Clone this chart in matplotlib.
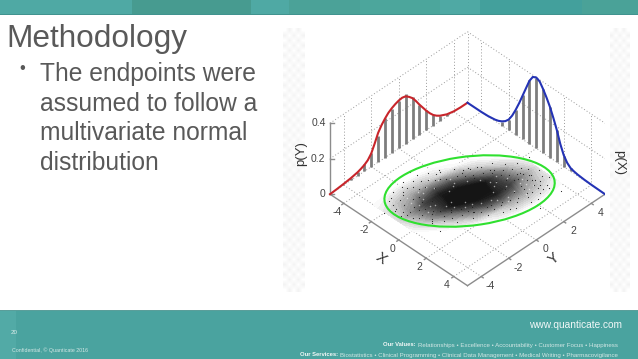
import numpy as np
import matplotlib
matplotlib.use('Agg')
import matplotlib.pyplot as plt
from matplotlib.colors import LinearSegmentedColormap
from matplotlib.patches import Rectangle, Ellipse
from mpl_toolkits.mplot3d import proj3d, art3d

plt.rcParams['font.family'] = ['Liberation Sans', 'DejaVu Sans']

# curves on the two back walls
curve_pos = [-5, -4.5, -4, -3.5, -3, -2.75, -2.5, -2.25, -2, -1.75, -1.5, -1.25, -1, -0.75, -0.5, -0.25, 0,
             0.25, 0.5, 0.75, 1, 1.25, 1.5, 1.75, 2, 2.25, 2.5, 2.75, 3, 3.5, 4, 4.5, 5]
p_y = [0, 0.003, 0.007, 0.012, 0.02, 0.027, 0.036, 0.05, 0.075, 0.118, 0.165, 0.196, 0.22, 0.24, 0.253, 0.263, 0.27,
       0.273, 0.268, 0.252, 0.232, 0.203, 0.17, 0.14, 0.11, 0.083, 0.06, 0.043, 0.03, 0.012, 0.003, 0, 0]
p_x = [0, 0, 0, 0.002, 0.008, 0.014, 0.024, 0.038, 0.06, 0.095, 0.14, 0.19, 0.245, 0.30, 0.355, 0.39, 0.40,
       0.39, 0.36, 0.325, 0.285, 0.235, 0.18, 0.115, 0.065, 0.035, 0.018, 0.012, 0.008, 0.004, 0.002, 0.001, 0]

# histogram bars
bar_y_pos = [-3.5, -3, -2.5, -2, -1.5, -1, -0.5, 0, 0.5, 1, 1.5, 2, 2.5, 3, 3.5]
bar_y = [0.012, 0.02, 0.04, 0.075, 0.15, 0.225, 0.25, 0.265, 0.28, 0.24, 0.165, 0.115, 0.06, 0.03, 0.012]
bar_x_pos = [-2.5, -2, -1.5, -1, -0.5, 0, 0.5, 1, 1.5, 2, 2.5]
bar_x = [0.022, 0.055, 0.14, 0.25, 0.36, 0.395, 0.36, 0.285, 0.18, 0.06, 0.016]

# green ellipse as read on the floor of the plot
ring_center = (-0.1, 0.25)
ring_width = 8.9
ring_height = 5.3
ring_angle = 57.7

# darkness of the point cloud by cell, rows are X, columns are Y
grid_ticks = [-4, -3, -2, -1, 0, 1, 2, 3, 4]
cloud = [
    [0.02, 0.02, 0.017, 0.01, 0, 0, 0, 0, 0],
    [0.033, 0.045, 0.042, 0.027, 0.012, 0.004, 0, 0, 0],
    [0.10, 0.19, 0.24, 0.22, 0.136, 0.059, 0.017, 0.004, 0],
    [0.114, 0.30, 0.54, 0.68, 0.59, 0.35, 0.145, 0.041, 0.008],
    [0.049, 0.18, 0.45, 0.79, 0.95, 0.79, 0.45, 0.18, 0.049],
    [0.008, 0.041, 0.145, 0.35, 0.59, 0.68, 0.54, 0.30, 0.114],
    [0, 0.004, 0.017, 0.059, 0.136, 0.22, 0.24, 0.19, 0.10],
    [0, 0, 0, 0.004, 0.012, 0.027, 0.042, 0.045, 0.033],
    [0, 0, 0, 0, 0, 0.01, 0.017, 0.02, 0.02],
]

# single dots visible around the edge of the cloud
dots_x = [-2.0, 3.4, 0.2, -3.3, 3.2, 1.0, -2.6, -2.3, -2.8, -2.1, -1.7, -1.4, -2.4, -2.7, -1.1, -0.9, -1.6, -2.0,
          -1.2, -0.5, -0.2, 0.3, 0.6, 1.1, 1.5, 1.9, 2.3, 2.5, 2.2, 1.8, 1.4, 0.9, 0.4, -0.1, 0.8, 1.2, 1.7, 2.0,
          2.4, 2.6, 1.9, 1.5, 0.7, 0.2, -0.4, -0.8, -1.3, -1.9, -2.4, -2.9, -2.6, -2.2, -1.5, -1.0, -0.6, 0.0, 0.5,
          1.0, 1.6, 2.1, -3.0, -2.5, -1.8, 2.7, 2.8, 1.3, 0.1, -0.3, -1.4, -2.2, -2.8, -1.1, 0.9, 1.7, 2.2, 2.6,
          -2.35, -2.15, -1.95, -1.75, -1.55, -1.25, -0.95, -0.75, -0.35, -0.05, 0.25, 0.55, 0.85, 1.15, 1.45, 1.65,
          1.85, 2.05, 2.35, -2.45, -2.05, -1.65, -1.35, -0.85, -0.55, -0.15, 0.15, 0.45, 0.75, 1.05, 1.35, 1.75,
          2.15, 2.45, -2.55, -2.25, -1.85, -1.45, -1.15, -0.65, -0.25, 0.35, 0.65, 0.95, 1.25, 1.55, 1.95, 2.25,
          -1.05, -0.45, 0.05, 0.35, 0.95, 1.45, -1.75, -1.25, -0.7, 0.15, 0.7, 1.25, 1.8, 2.35]
dots_y = [-4.1, 1.9, 4.3, -0.9, 3.6, -3.0, -3.0, -2.4, -2.0, -3.3, -2.9, -3.3, -1.0, -1.3, -3.1, -2.6, -1.9, -0.4,
          -2.1, -2.8, -2.4, -2.9, -2.3, -1.9, -1.1, -0.4, 0.3, 1.0, 1.4, 0.6, 0.0, -0.9, -1.6, -1.9, 3.6, 3.3,
          3.7, 3.9, 3.4, 2.7, 2.9, 2.4, 2.9, 3.0, 2.3, 2.6, 1.5, 0.9, 0.3, -0.8, -0.3, 0.2, 1.2, 2.0, 1.7, 2.6, 3.4,
          2.7, 1.8, 2.2, -1.7, -3.2, -3.4, 1.9, 2.3, 3.9, 3.5, 3.0, 0.6, -0.7, -2.6, 0.9, 3.1, 3.2, 2.9, 3.3,
          -1.6, -2.75, -1.15, -2.25, -0.85, -2.65, -1.65, -2.35, -2.15, -1.25, -1.45, -1.05, -0.55, -0.75, 0.25, 0.85,
          1.25, 1.65, 2.05, -2.25, -1.45, 0.05, 0.95, 1.25, 2.15, 1.45, 2.25, 2.55, 3.05, 1.65, 2.95, 2.35,
          3.15, 3.05, -1.85, -0.05, -0.15, 1.45, 1.85, 1.15, 2.05, 1.75, 2.15, 2.45, 3.35, 3.15, 3.35, 2.45,
          -3.35, -3.05, -2.65, -2.05, -1.35, -0.5, -3.55, -3.6, -3.25, -2.75, -1.85, -0.75, 0.15, 0.75]

# light flecks, the paper showing through where the cloud is thinner
gaps_x = [-1.9, -1.55, -1.2, -0.85, -0.45, -1.7, -1.35, -0.95, -0.6, -2.0, -2.25, -1.85, -1.45, 0.55, 0.95, 1.3, 1.65,
          1.95, 0.4, 0.8, 1.15, 1.5, 1.85, 2.1, 0.25, 0.6, 1.0, 1.4, -0.15, 0.15, -0.75, -0.35, 0.35, 0.7, -1.1, -0.7,
          1.85, 1.55, -1.55, -1.9, 0.05, -0.2, 0.5, 1.15]
gaps_y = [-1.7, -0.9, -2.35, -0.5, -2.45, -1.55, -1.9, -0.1, -1.75, -2.4, -0.55, -0.3, 0.2, 2.3, 1.85, 2.55, 1.3,
          2.5, 1.7, 1.05, 0.55, 1.9, 1.1, 2.15, -1.2, -0.8, 0.0, 0.75, -1.45, 1.5, 0.7, 1.25, -0.5, -0.35, 0.15, -2.0,
          2.9, 2.7, -2.55, -1.1, 2.0, -1.0, 1.45, 2.8]

axis_ticks = [-4, -2, 0, 2, 4]
axis_tick_labels = ['-4', '-2', '0', '2', '4']
z_ticks = [0, 0.2, 0.4]
z_tick_labels = ['0', '0.2', '0.4']

body_lines = ['The endpoints were', 'assumed to follow a', 'multivariate normal', 'distribution']
values_text = 'Relationships • Excellence • Accountability • Customer Focus • Happiness'
services_text = 'Biostatistics • Clinical Programming • Clinical Data Management • Medical Writing • Pharmacovigilance'

fig = plt.figure(figsize=(6.38, 3.59), dpi=100, facecolor='white')

# slide background, pixel coordinates
bg = fig.add_axes([0, 0, 1, 1], zorder=0)
bg.axis('off')

# faint checker strips either side of the image
check = np.indices((53, 5)).sum(axis=0) % 2
for x0, x1 in [(283, 305), (610, 630)]:
    bg.imshow(check, extent=(x0, x1, 292, 28), cmap='gray_r', vmin=0, vmax=20,
              interpolation='bilinear', aspect='auto', zorder=1)
bg.set_xlim(0, 638)
bg.set_ylim(359, 0)

bg.add_patch(Rectangle((0, 0), 638, 14.5, color='#4fa9a4', lw=0))
for x0, x1, c in [(132, 251, '#479b90'), (289, 360, '#4ba298'), (360, 440, '#4ca69c'), (480, 582, '#43a09c'), (582, 638, '#4aa298')]:
    bg.add_patch(Rectangle((x0, 0), x1 - x0, 14.5, color=c, lw=0))
bg.add_patch(Rectangle((0, 13.5), 638, 1, color='#41938f', lw=0))

bg.add_patch(Rectangle((0, 310), 638, 49, color='#4aa39f', lw=0))
bg.add_patch(Rectangle((0, 310), 16, 49, color='#52aaa6', lw=0))
bg.add_patch(Rectangle((0, 310), 638, 1.2, color='#5a9e9a', lw=0))

bg.text(6, 47, 'Methodology', fontsize=22.7, color='#595959', va='baseline')
bg.text(22.7, 69, '•', fontsize=12, color='#595959', ha='center', va='center')
for y, line in zip([81, 111, 140, 170], body_lines):
    bg.text(40, y, line, fontsize=17.7, color='#595959', va='baseline')

bg.text(622, 325, 'www.quanticate.com', fontsize=7.3, color='#f2f8f8', ha='right', va='center')
bg.text(14, 333, '20', fontsize=4.5, color='#dcecea', ha='center', va='center')
bg.text(12, 350, 'Confidential, © Quanticate 2016', fontsize=3.8, color='#d5e8e6', va='center')
bg.text(416, 345, 'Our Values:', fontsize=4.2, color='#f4f9f8', fontweight='bold', ha='right', va='center')
bg.text(618, 345, values_text, fontsize=4.4, color='#d2e7e5', ha='right', va='center')
bg.text(338, 355, 'Our Services:', fontsize=4.2, color='#f4f9f8', fontweight='bold', ha='right', va='center')
bg.text(618, 355, services_text, fontsize=4.4, color='#d2e7e5', ha='right', va='center')

# axis titles sit in the slide layer, 3d text does not keep a rotation
bg.text(381, 259, 'X', fontsize=10.5, color='#333333', rotation=-35, ha='center', va='center')
bg.text(554, 259, 'Y', fontsize=10.5, color='#333333', rotation=40, ha='center', va='center')
bg.text(301, 154, 'p(Y)', fontsize=9.5, color='#333333', rotation=90, ha='center', va='center')
bg.text(619, 162, 'p(X)', fontsize=9.5, color='#333333', rotation=270, ha='center', va='center')

# the 3d plot
ax = fig.add_axes([0.25, 0.1, 0.6, 0.8], projection='3d', proj_type='ortho', computed_zorder=False, zorder=2)
ax.patch.set_alpha(0)
ax.view_init(elev=41.7, azim=-45)
ax.set_xlim(-5, 5)
ax.set_ylim(-5, 5)
ax.set_zlim(0, 0.4)
ax.set_box_aspect((1, 1, 0.489))
ax.set_axis_off()


def to_px(x, y, z):
    a, b, _ = proj3d.proj_transform(x, y, z, ax.get_proj())
    return ax.transData.transform((a, b))


# fit the box onto the place it has in the slide
for i in range(3):
    fig.canvas.draw()
    left = to_px(-5, -5, 0)
    right = to_px(5, 5, 0)
    scale = 275 / (right[0] - left[0])
    p = ax.get_position(original=True)
    mid_x = (left[0] + right[0]) / 2 / 638
    mid_y = (to_px(-5, 5, 0)[1] + to_px(5, -5, 0)[1]) / 2 / 359
    cx = p.x0 + p.width / 2 + (467.5 / 638 - mid_x)
    cy = p.y0 + p.height / 2 + ((359 - 194.2) / 359 - mid_y)
    w = p.width * scale
    h = p.height * scale
    ax.set_position([cx - w / 2, cy - h / 2, w, h])
fig.canvas.draw()

grid = dict(color='#999999', lw=0.7, ls=(0, (1, 2.2)), zorder=1)
edge = dict(color='#8c8c8c', lw=1.0, zorder=2)

for t in axis_ticks:
    ax.plot([t, t], [-5, 5], [0, 0], **grid)
    ax.plot([-5, 5], [t, t], [0, 0], **grid)
    ax.plot([-5, -5], [t, t], [0, 0.4], **grid)
    ax.plot([t, t], [5, 5], [0, 0.4], **grid)
for z in z_ticks[1:]:
    ax.plot([-5, -5], [-5, 5], [z, z], **grid)
    ax.plot([-5, 5], [5, 5], [z, z], **grid)
ax.plot([-5, -5], [5, 5], [0, 0.4], **grid)
ax.plot([5, 5], [5, 5], [0, 0.4], **grid)
ax.plot([-5, -5], [-5, 5], [0, 0], **grid)
ax.plot([-5, 5], [5, 5], [0, 0], **grid)

ax.plot([-5, 5], [-5, -5], [0, 0], **edge)
ax.plot([5, 5], [-5, 5], [0, 0], **edge)
ax.plot([-5, -5], [-5, -5], [0, 0.4], **edge)
for t in axis_ticks:
    ax.plot([t, t], [-5, -5.14], [0, 0], **edge)
    ax.plot([5, 5.14], [t, t], [0, 0], **edge)
for z in z_ticks:
    ax.plot([-5, -4.86], [-5, -4.86], [z, z], **edge)

# point cloud, contourf wants rows along Y so the table is flipped
ink = LinearSegmentedColormap.from_list('ink', ['#ffffff', '#9a9a9a', '#4a4a4a', '#151515'])
ax.contourf(grid_ticks, grid_ticks, np.array(cloud).T, levels=np.linspace(0.045, 0.72, 30), zdir='z', offset=0,
            cmap=ink, extend='max', zorder=3)
ax.scatter(gaps_x, gaps_y, 0, s=1.2, c='#ffffff', alpha=0.55, lw=0, depthshade=False, zorder=4)
ax.scatter(dots_x, dots_y, 0, s=0.7, c='#222222', lw=0, depthshade=False, zorder=4)

ring = Ellipse(ring_center, ring_width, ring_height, angle=ring_angle, fill=False, edgecolor='#2fe02f', lw=1.5, zorder=5)
ax.add_patch(ring)
art3d.pathpatch_2d_to_3d(ring, z=0, zdir='z')

# histogram bars on the back walls
for y, h in zip(bar_y_pos, bar_y):
    ax.plot([-5, -5], [y, y], [0, h], color='#7d7d7d', lw=2.0, solid_capstyle='butt', zorder=6)
for x, h in zip(bar_x_pos, bar_x):
    ax.plot([x, x], [5, 5], [0, h], color='#7d7d7d', lw=2.0, solid_capstyle='butt', zorder=6)

ax.plot([-5] * len(curve_pos), curve_pos, p_y, color='#c8252b', lw=1.5, zorder=7)
ax.plot(curve_pos, [5] * len(curve_pos), p_x, color='#2433b5', lw=1.5, zorder=7)


def tick_text(x, y, z, s, **kw):
    # project with the 3d axes, then write on the figure
    px = to_px(x, y, z)
    fig.text(px[0] / 638, px[1] / 359, s, fontsize=7.5, color='#444444', va='center', **kw)


for t, s in zip(axis_ticks, axis_tick_labels):
    tick_text(t + 0.23, -5.72, 0, s, ha='center')
    tick_text(5.85, t - 0.17, 0, s, ha='center')
for z, s in zip(z_ticks, z_tick_labels):
    tick_text(-5.16, -5.16, z, s, ha='right')

fig.savefig('out.png', dpi=100)
